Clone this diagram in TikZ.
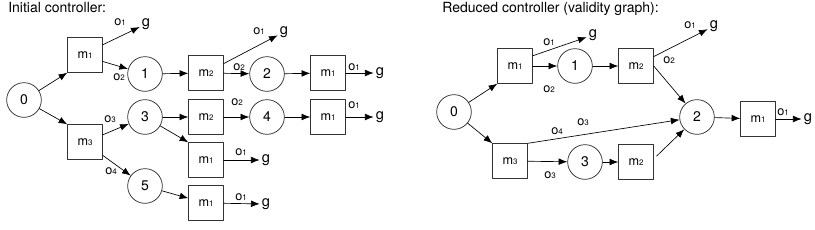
\documentclass[tikz,border=0pt]{standalone}
\usepackage{fontspec}
\setmainfont{TeX Gyre Heros}
\usetikzlibrary{arrows.meta}
\newcommand{\ix}[1]{\raisebox{-0.3pt}{\fontsize{6}{7}\selectfont #1}}

\begin{document}
\begin{tikzpicture}[x=0.75pt,y=-0.75pt,line cap=round,line join=round,
  state/.style={circle,draw=black!80,line width=0.55pt,minimum size=26pt,inner sep=0pt,font=\fontsize{10.5}{12}\selectfont},
  act/.style={rectangle,draw=black!80,line width=0.55pt,minimum size=26pt,inner sep=0pt,font=\fontsize{9.5}{11}\selectfont},
  goal/.style={inner sep=1.5pt,font=\fontsize{11}{12}\selectfont},
  obs/.style={inner sep=0pt,font=\fontsize{9.5}{11}\selectfont},
  edge/.style={-{Latex[length=6.5pt,width=5pt]},line width=0.5pt}]
  \useasboundingbox (0,0) rectangle (815,229);
  \node[anchor=base west,inner sep=0pt,font=\fontsize{10.5}{12}\selectfont] (title1) at (8,12) {Initial controller:};
  \node[anchor=base west,inner sep=0pt,font=\fontsize{10.5}{12}\selectfont] (title2) at (442,12) {Reduced controller (validity graph):};
  % initial controller
  \foreach \n/\x/\y/\t in {s0/24/100/0, s1/145/74/1, s2/267/74/2, s3/145/117/3, s4/267/117/4, s5/145/186/5}
    \node[state] (\n) at (\x,\y) {\t};
  \foreach \n/\x/\y/\t in {a1/85/55/1, a2/206/73/2, a3/328/73/1, a4/206/117/2, a5/328/117/1,
                          a6/85/142/3, a7/206/160/1, a8/206/203/1}
    \node[act] (\n) at (\x,\y) {m\ix{\t}};
  \foreach \n/\x/\y in {g1/146/24, g2/284/32, g3/380/73, g4/380/117, g5/266/160, g6/266/204}
    \node[goal] (\n) at (\x,\y) {g};
  \foreach \n/\x/\y/\t in {p1/120/22/1, p2/119/77/2, p3/239/67/2, p4/259/31/1, p5/354/67/1, p6/237/102/2,
                          p7/354/105/1, p8/110/119/3, p9/241/152/1, p10/111/171/4, p11/241/197/1}
    \node[obs] (\n) at (\x,\y) {o\ix{\t}};
  \draw[edge] (s0) -- (a1.south west);
  \draw[edge] (s0) -- (a6.north west);
  \draw[edge] (a1.30) -- (g1);
  \draw[edge] (a1.-20) -- (s1);
  \draw[edge] (a2.28) -- (g2);
  \draw[edge] (a6.22) -- (s3);
  \draw[edge] (a6.-37) -- (s5);
  \draw[edge] (s3) -- (a7.north west);
  \draw[edge] (s5) -- (a8.165);
  \foreach \a/\b in {s1/a2, a2/s2, s2/a3, a3/g3, s3/a4, a4/s4, s4/a5, a5/g4, a7/g5, a8/g6}
    \draw[edge] (\a) -- (\b);
  % reduced controller
  \foreach \n/\x/\y/\t in {t0/454/112/0, t1/575/66/1, t2/697/117/2, t3/585/162/3}
    \node[state] (\n) at (\x,\y) {\t};
  \foreach \n/\x/\y/\t in {b1/515/66/1, b2/636/66/2, b3/758/119/1, b4/510/161/3, b5/636/162/2}
    \node[act] (\n) at (\x,\y) {m\ix{\t}};
  \foreach \n/\x/\y in {h1/593/35, h2/714/26, h3/808/119}
    \node[goal] (\n) at (\x,\y) {g};
  \foreach \n/\x/\y/\t in {q1/549/42/1, q2/549/89/2, q3/690/25/1, q4/669/60/2, q5/783/112/1,
                          q6/557/131/4, q7/583/122/3, q8/550/175/3}
    \node[obs] (\n) at (\x,\y) {o\ix{\t}};
  \draw[edge] (t0) -- (b1.south west);
  \draw[edge] (t0) -- (b4.north west);
  \draw[edge] (b1.30) -- (h1);
  \draw[edge] (b2.28) -- (h2);
  \draw[edge] (b2.east) -- (t2);
  \draw[edge] (b4.north east) -- (t2);
  \draw[edge,shorten <=3pt] (b5.10) -- (t2);
  \foreach \a/\b in {b1/t1, t1/b2, t2/b3, b3/h3, b4/t3, t3/b5}
    \draw[edge] (\a) -- (\b);
\end{tikzpicture}
\end{document}
